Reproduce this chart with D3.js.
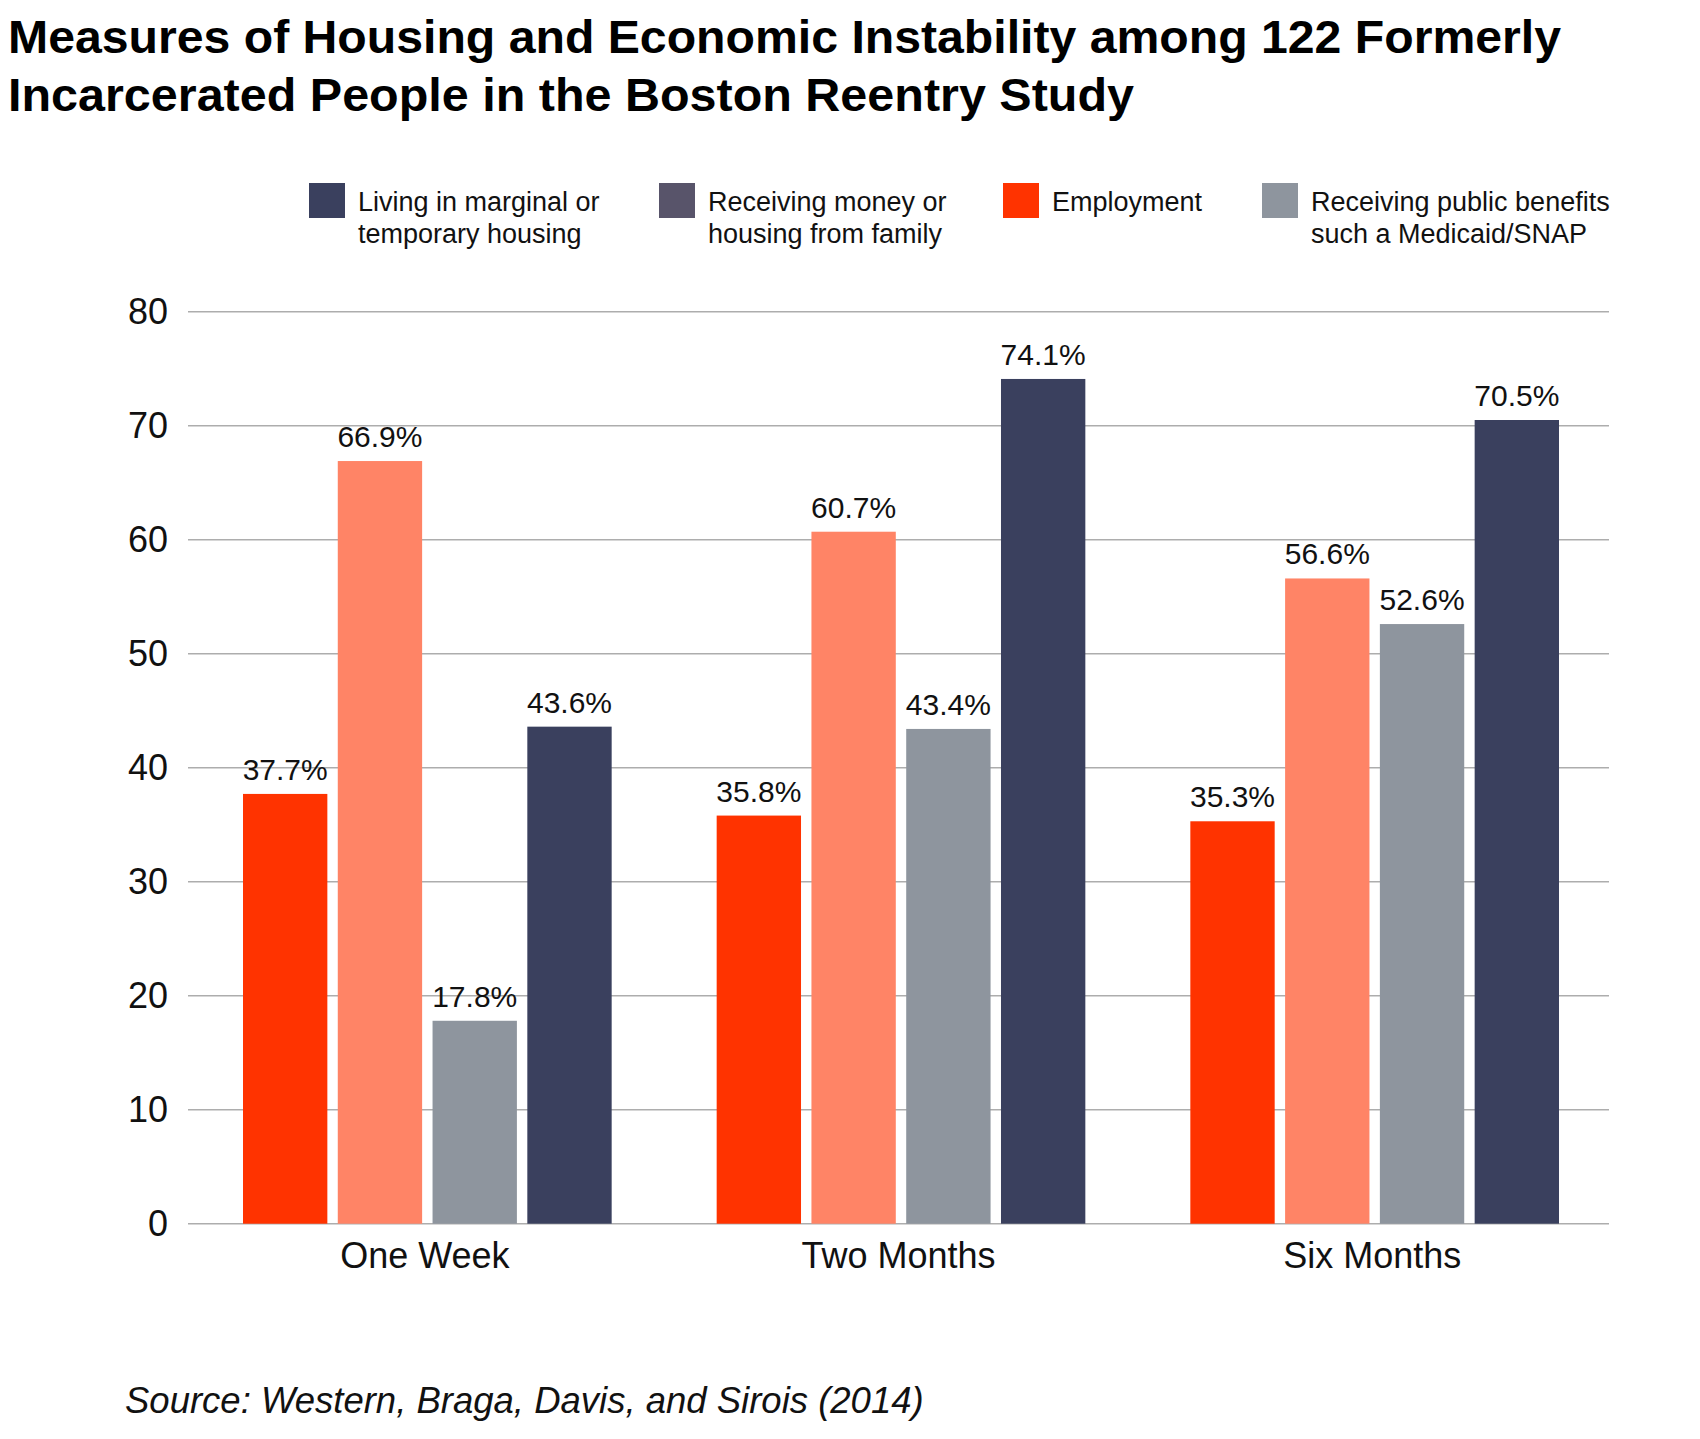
<!DOCTYPE html>
<html>
<head>
<meta charset="UTF-8">
<title>Housing and Economic Instability</title>
<script src="https://cdn.jsdelivr.net/npm/d3@7"></script>
<style>
  body { margin: 0; background: #fff; }
  text { font-family: "Liberation Sans", Arial, sans-serif; }
</style>
</head>
<body>
<div id="chart"></div>
<script>

// data

var periods = ["One Week", "Two Months", "Six Months"]
var measures = ["employment", "family", "benefits", "housing"]

var employment = [37.7, 35.8, 35.3]
var family     = [66.9, 60.7, 56.6]
var benefits   = [17.8, 43.4, 52.6]
var housing    = [43.6, 74.1, 70.5]

var yTicks = [0, 10, 20, 30, 40, 50, 60, 70, 80]

var titleLines = [
  "Measures of Housing and Economic Instability among 122 Formerly",
  "Incarcerated People in the Boston Reentry Study"
]

// legend, as drawn in the original (its swatches differ from the bars)
var legendLabels = [
  ["Living in marginal or", "temporary housing"],
  ["Receiving money or", "housing from family"],
  ["Employment"],
  ["Receiving public benefits", "such a Medicaid/SNAP"]
]
var legendColors = ["#3a405e", "#58546a", "#ff3300", "#8e959e"]
var legendX = [309, 659, 1003, 1262]

var barColor = { employment: "#ff3300", family: "#ff8466", benefits: "#8e959e", housing: "#3a405e" }
var values = { employment: employment, family: family, benefits: benefits, housing: housing }

var width = 1700, height = 1439
var plotLeft = 188, plotRight = 1609, plotTop = 311.7, plotBottom = 1223.7

var svg = d3.select("#chart").append("svg")
  .attr("width", width)
  .attr("height", height)

// title - stretched to the original's line widths
var titleWidths = [1553, 1126]
svg.append("g").selectAll("text")
  .data(titleLines).enter()
  .append("text")
  .attr("x", 8)
  .attr("y", function(d, i) { return 53 + i * 58 })
  .attr("font-size", 46)
  .attr("font-weight", "bold")
  .attr("fill", "#000")
  .attr("textLength", function(d, i) { return titleWidths[i] })
  .attr("lengthAdjust", "spacingAndGlyphs")
  .text(function(d) { return d })

// legend
var legend = svg.selectAll(".legend")
  .data(legendLabels).enter()
  .append("g")
  .attr("class", "legend")
  .attr("transform", function(d, i) { return "translate(" + legendX[i] + ",183)" })

legend.append("rect")
  .attr("width", 36)
  .attr("height", 35)
  .attr("fill", function(d, i) { return legendColors[i] })

legend.each(function(lines) {
  d3.select(this).selectAll("text")
    .data(lines).enter()
    .append("text")
    .attr("x", 49)
    .attr("y", function(d, j) { return 28 + j * 32 })
    .attr("font-size", 27)
    .attr("fill", "#111")
    .text(function(d) { return d })
})

// scales
var y = d3.scaleLinear().domain([0, 80]).range([plotBottom, plotTop])
var x0 = d3.scaleBand().domain(periods).range([plotLeft, plotRight]).paddingInner(0).paddingOuter(0)
var x1 = d3.scaleBand().domain(measures).range([55, x0.bandwidth() - 50]).paddingInner(0.11)

// gridlines
svg.append("g")
  .selectAll("line")
  .data(yTicks).enter()
  .append("line")
  .attr("x1", plotLeft)
  .attr("x2", plotRight)
  .attr("y1", function(d) { return y(d) })
  .attr("y2", function(d) { return y(d) })
  .attr("stroke", "#adadad")
  .attr("stroke-width", 1.5)

// y axis labels
var yAxis = svg.append("g")
  .attr("transform", "translate(168,0)")
  .call(d3.axisLeft(y).tickValues(yTicks).tickSize(0).tickPadding(0))
yAxis.select(".domain").remove()
yAxis.selectAll("text")
  .attr("font-size", 36)
  .attr("font-family", "Liberation Sans, Arial, sans-serif")
  .attr("fill", "#111")

// bars
var groups = svg.selectAll(".period")
  .data(periods).enter()
  .append("g")
  .attr("class", "period")
  .attr("transform", function(d) { return "translate(" + x0(d) + ",0)" })

var cells = groups.selectAll(".bar")
  .data(function(p, i) { return measures.map(function(m) { return { m: m, v: values[m][i] } }) })
  .enter()

cells.append("rect")
  .attr("class", "bar")
  .attr("x", function(d) { return x1(d.m) })
  .attr("width", x1.bandwidth())
  .attr("y", function(d) { return y(d.v) })
  .attr("height", function(d) { return y(0) - y(d.v) })
  .attr("fill", function(d) { return barColor[d.m] })

cells.append("text")
  .attr("x", function(d) { return x1(d.m) + x1.bandwidth() / 2 })
  .attr("y", function(d) { return y(d.v) - 14 })
  .attr("text-anchor", "middle")
  .attr("font-size", 30)
  .attr("fill", "#111")
  .text(function(d) { return d.v.toFixed(1) + "%" })

// category labels
var xAxis = svg.append("g")
  .attr("transform", "translate(0," + plotBottom + ")")
  .call(d3.axisBottom(x0).tickSize(0).tickPadding(0))
xAxis.select(".domain").remove()
xAxis.selectAll("text")
  .attr("dy", null)
  .attr("y", 44)
  .attr("font-size", 36)
  .attr("font-family", "Liberation Sans, Arial, sans-serif")
  .attr("fill", "#111")

// source
svg.append("text")
  .attr("x", 125)
  .attr("y", 1413)
  .attr("font-size", 36.5)
  .attr("font-style", "italic")
  .attr("fill", "#111")
  .text("Source: Western, Braga, Davis, and Sirois (2014)")

</script>
</body>
</html>
